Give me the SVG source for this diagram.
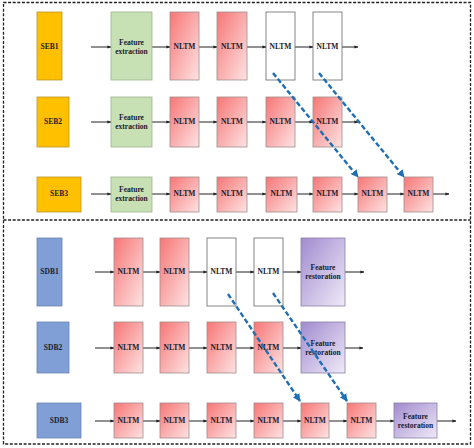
<svg xmlns="http://www.w3.org/2000/svg" width="474" height="448" viewBox="0 0 474 448">
<defs>
<linearGradient id="gp" x1="0" y1="0" x2="1" y2="1"><stop offset="0" stop-color="#f77676"/><stop offset="1" stop-color="#fde3e3"/></linearGradient>
<linearGradient id="gv" x1="0" y1="0" x2="1" y2="1"><stop offset="0" stop-color="#a18bcf"/><stop offset="1" stop-color="#efeaf7"/></linearGradient>
<marker id="ah" viewBox="0 0 10 10" refX="9" refY="5" markerWidth="4" markerHeight="4" orient="auto"><path d="M0,1.5 L10,5 L0,8.5 z" fill="#222"/></marker>
<marker id="bh" viewBox="0 0 10 10" refX="9" refY="5" markerWidth="3.2" markerHeight="3.2" orient="auto"><path d="M0,0 L10,5 L0,10 z" fill="#1f6fb4"/></marker>
</defs>
<style>
.t{font-family:"Liberation Serif","Times New Roman",serif;font-weight:bold;font-size:7.5px;fill:#1a1a2e;text-anchor:middle;dominant-baseline:middle}
.nl{fill:url(#gp);stroke:#a08c8c;stroke-width:0.8}
.wh{fill:#fff;stroke:#666;stroke-width:0.8}
.fe{fill:#c7e0b4;stroke:#9fb38f;stroke-width:0.8}
.fr{fill:url(#gv);stroke:#8a7fa5;stroke-width:0.8}
.seb{fill:#ffc000;stroke:#b9962a;stroke-width:0.8}
.sdb{fill:#7f9fd6;stroke:#6b86b5;stroke-width:0.8}
.a{stroke:#222;stroke-width:1;fill:none;marker-end:url(#ah)}
.b{stroke:#1f6fb4;stroke-width:2.4;stroke-dasharray:5 2.5;fill:none;marker-end:url(#bh)}
.frame{fill:none;stroke:#222;stroke-width:1.3;stroke-dasharray:3 1.6}
</style>
<rect class="frame" x="3.5" y="2.5" width="467" height="441.5"/>
<line class="frame" x1="3.5" y1="220" x2="470.5" y2="220"/>

<g id="connectors">
<line class="a" x1="91" y1="47" x2="111" y2="47"/>
<line class="a" x1="152" y1="47" x2="170" y2="47"/>
<line class="a" x1="199" y1="47" x2="217" y2="47"/>
<line class="a" x1="247" y1="47" x2="266" y2="47"/>
<line class="a" x1="295" y1="47" x2="313" y2="47"/>
<line class="a" x1="342" y1="47" x2="358" y2="47"/>

<line class="a" x1="91" y1="122" x2="111" y2="122"/>
<line class="a" x1="152" y1="122" x2="170" y2="122"/>
<line class="a" x1="199" y1="122" x2="217" y2="122"/>
<line class="a" x1="247" y1="122" x2="266" y2="122"/>
<line class="a" x1="295" y1="122" x2="313" y2="122"/>
<line class="a" x1="342" y1="122" x2="358" y2="122"/>

<line class="a" x1="91" y1="194" x2="111" y2="194"/>
<line class="a" x1="152" y1="194" x2="170" y2="194"/>
<line class="a" x1="199" y1="194" x2="217" y2="194"/>
<line class="a" x1="247" y1="194" x2="266" y2="194"/>
<line class="a" x1="297" y1="194" x2="313" y2="194"/>
<line class="a" x1="342" y1="194" x2="358" y2="194"/>
<line class="a" x1="387" y1="194" x2="404" y2="194"/>
<line class="a" x1="433" y1="194" x2="449" y2="194"/>

<line class="a" x1="95" y1="272" x2="114" y2="272"/>
<line class="a" x1="143" y1="272" x2="160" y2="272"/>
<line class="a" x1="189" y1="272" x2="207" y2="272"/>
<line class="a" x1="236" y1="272" x2="254" y2="272"/>
<line class="a" x1="283" y1="272" x2="301" y2="272"/>
<line class="a" x1="345" y1="272" x2="364" y2="272"/>

<line class="a" x1="95" y1="348" x2="114" y2="348"/>
<line class="a" x1="143" y1="348" x2="160" y2="348"/>
<line class="a" x1="189" y1="348" x2="207" y2="348"/>
<line class="a" x1="236" y1="348" x2="254" y2="348"/>
<line class="a" x1="283" y1="348" x2="301" y2="348"/>
<line class="a" x1="345" y1="348" x2="363" y2="348"/>

<line class="a" x1="95" y1="421" x2="114" y2="421"/>
<line class="a" x1="143" y1="421" x2="160" y2="421"/>
<line class="a" x1="189" y1="421" x2="207" y2="421"/>
<line class="a" x1="236" y1="421" x2="254" y2="421"/>
<line class="a" x1="283" y1="421" x2="301" y2="421"/>
<line class="a" x1="329" y1="421" x2="347" y2="421"/>
<line class="a" x1="376" y1="421" x2="394" y2="421"/>
<line class="a" x1="437" y1="421" x2="456" y2="421"/>
</g>

<g id="n-seb1"><rect class="seb" x="37" y="12" width="25" height="68"/><text class="t" x="49.5" y="47">SEB1</text></g>
<g id="n-fe1"><rect class="fe" x="111" y="12" width="41" height="68"/><text class="t" x="131.5" y="43">Feature</text><text class="t" x="131.5" y="52">extraction</text></g>
<g id="n-t11"><rect class="nl" x="170" y="12" width="29" height="68"/><text class="t" x="184.5" y="47">NLTM</text></g>
<g id="n-t12"><rect class="nl" x="217" y="12" width="30" height="68"/><text class="t" x="232" y="47">NLTM</text></g>
<g id="n-t13"><rect class="wh" x="266" y="12" width="29" height="68"/><text class="t" x="280.5" y="47">NLTM</text></g>
<g id="n-t14"><rect class="wh" x="313" y="12" width="29" height="68"/><text class="t" x="327.5" y="47">NLTM</text></g>

<g id="n-seb2"><rect class="seb" x="37" y="97" width="32" height="50"/><text class="t" x="53" y="122">SEB2</text></g>
<g id="n-fe2"><rect class="fe" x="111" y="97" width="41" height="50"/><text class="t" x="131.5" y="118">Feature</text><text class="t" x="131.5" y="127">extraction</text></g>
<g id="n-t21"><rect class="nl" x="170" y="97" width="29" height="50"/><text class="t" x="184.5" y="122">NLTM</text></g>
<g id="n-t22"><rect class="nl" x="217" y="97" width="30" height="50"/><text class="t" x="232" y="122">NLTM</text></g>
<g id="n-t23"><rect class="nl" x="266" y="97" width="29" height="50"/><text class="t" x="280.5" y="122">NLTM</text></g>
<g id="n-t24"><rect class="nl" x="313" y="97" width="29" height="50"/><text class="t" x="327.5" y="122">NLTM</text></g>

<g id="n-seb3"><rect class="seb" x="37" y="177" width="44" height="35"/><text class="t" x="59" y="194">SEB3</text></g>
<g id="n-fe3"><rect class="fe" x="111" y="177" width="41" height="35"/><text class="t" x="131.5" y="190">Feature</text><text class="t" x="131.5" y="199">extraction</text></g>
<g id="n-t31"><rect class="nl" x="170" y="177" width="29" height="35"/><text class="t" x="184.5" y="194">NLTM</text></g>
<g id="n-t32"><rect class="nl" x="217" y="177" width="30" height="35"/><text class="t" x="232" y="194">NLTM</text></g>
<g id="n-t33"><rect class="nl" x="266" y="177" width="31" height="35"/><text class="t" x="281.5" y="194">NLTM</text></g>
<g id="n-t34"><rect class="nl" x="313" y="177" width="29" height="35"/><text class="t" x="327.5" y="194">NLTM</text></g>
<g id="n-t35"><rect class="nl" x="358" y="177" width="29" height="35"/><text class="t" x="372.5" y="194">NLTM</text></g>
<g id="n-t36"><rect class="nl" x="404" y="177" width="29" height="35"/><text class="t" x="418.5" y="194">NLTM</text></g>

<g id="n-sdb1"><rect class="sdb" x="37" y="238" width="25" height="68"/><text class="t" x="49.5" y="272">SDB1</text></g>
<g id="n-d11"><rect class="nl" x="114" y="238" width="29" height="68"/><text class="t" x="128.5" y="272">NLTM</text></g>
<g id="n-d12"><rect class="nl" x="160" y="238" width="29" height="68"/><text class="t" x="174.5" y="272">NLTM</text></g>
<g id="n-d13"><rect class="wh" x="207" y="238" width="29" height="68"/><text class="t" x="221.5" y="272">NLTM</text></g>
<g id="n-d14"><rect class="wh" x="254" y="238" width="29" height="68"/><text class="t" x="268.5" y="272">NLTM</text></g>
<g id="n-fr1"><rect class="fr" x="301" y="238" width="44" height="68"/><text class="t" x="323" y="268">Feature</text><text class="t" x="323" y="277">restoration</text></g>

<g id="n-sdb2"><rect class="sdb" x="37" y="322" width="32" height="51"/><text class="t" x="53" y="348">SDB2</text></g>
<g id="n-d21"><rect class="nl" x="114" y="322" width="29" height="51"/><text class="t" x="128.5" y="348">NLTM</text></g>
<g id="n-d22"><rect class="nl" x="160" y="322" width="29" height="51"/><text class="t" x="174.5" y="348">NLTM</text></g>
<g id="n-d23"><rect class="nl" x="207" y="322" width="29" height="51"/><text class="t" x="221.5" y="348">NLTM</text></g>
<g id="n-d24"><rect class="nl" x="254" y="322" width="29" height="51"/><text class="t" x="268.5" y="348">NLTM</text></g>
<g id="n-fr2"><rect class="fr" x="301" y="322" width="44" height="51"/><text class="t" x="323" y="344">Feature</text><text class="t" x="323" y="353">restoration</text></g>

<g id="n-sdb3"><rect class="sdb" x="37" y="403" width="44" height="35"/><text class="t" x="59" y="421">SDB3</text></g>
<g id="n-d31"><rect class="nl" x="114" y="403" width="29" height="35"/><text class="t" x="128.5" y="421">NLTM</text></g>
<g id="n-d32"><rect class="nl" x="160" y="403" width="29" height="35"/><text class="t" x="174.5" y="421">NLTM</text></g>
<g id="n-d33"><rect class="nl" x="207" y="403" width="29" height="35"/><text class="t" x="221.5" y="421">NLTM</text></g>
<g id="n-d34"><rect class="nl" x="254" y="403" width="29" height="35"/><text class="t" x="268.5" y="421">NLTM</text></g>
<g id="n-d35"><rect class="nl" x="301" y="403" width="28" height="35"/><text class="t" x="315" y="421">NLTM</text></g>
<g id="n-d36"><rect class="nl" x="347" y="403" width="29" height="35"/><text class="t" x="361.5" y="421">NLTM</text></g>
<g id="n-fr3"><rect class="fr" x="394" y="403" width="43" height="35"/><text class="t" x="415.5" y="417">Feature</text><text class="t" x="415.5" y="426">restoration</text></g>

<g id="skip-connectors">
<line class="b" x1="273" y1="73" x2="358" y2="177"/>
<line class="b" x1="319" y1="73" x2="404" y2="177"/>
<line class="b" x1="228" y1="294" x2="300" y2="401"/>
<line class="b" x1="273" y1="293" x2="347" y2="401"/>
</g>
</svg>
